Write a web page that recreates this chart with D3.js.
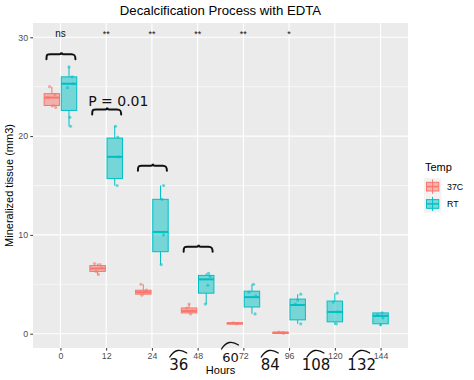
<!DOCTYPE html>
<html>
<head>
<meta charset="utf-8">
<script src="https://cdn.jsdelivr.net/npm/d3@7"></script>
<style>
  html, body { margin: 0; padding: 0; background: #fff; }
  svg { display: block; font-family: "Liberation Sans", Arial, sans-serif; }
</style>
</head>
<body>
<div id="chart"></div>
<script>
// ---------------- data ----------------
const categories = ["0", "12", "24", "48", "72", "96", "120", "144"];
const groups = ["37C", "RT"];
const yTicks = [0, 10, 20, 30];
const yMinorTicks = [5, 15, 25];

// box summaries
const boxCat   = ["0", "0", "12", "12", "24", "24", "48", "48", "72", "72", "96", "96", "120", "144"];
const boxGroup = ["37C", "RT", "37C", "RT", "37C", "RT", "37C", "RT", "37C", "RT", "37C", "RT", "RT", "RT"];
const boxLo    = [22.9, 21.0, 6.0, 15.0, 3.9, 7.0, 2.0, 3.0, 1.0, 2.0, 0.05, 1.0, 0.9, 0.8];
const boxQ1    = [23.1, 22.6, 6.3, 15.7, 4.0, 8.3, 2.1, 4.1, 1.0, 2.7, 0.05, 1.4, 1.2, 1.0];
const boxMed   = [23.9, 25.3, 6.6, 17.9, 4.2, 10.3, 2.3, 5.5, 1.05, 3.7, 0.1, 2.9, 2.2, 1.8];
const boxQ3    = [24.3, 26.0, 6.9, 19.8, 4.4, 13.6, 2.6, 5.9, 1.1, 4.3, 0.15, 3.5, 3.3, 2.1];
const boxHi    = [25.0, 27.0, 7.1, 21.0, 5.0, 15.0, 3.0, 6.1, 1.1, 5.0, 0.15, 4.0, 4.1, 2.1];

// individual (jittered) observations
const pointCat   = [
  "0","0","0","0","0", "0","0","0","0","0","0",
  "12","12","12","12","12", "12","12","12","12",
  "24","24","24","24", "24","24","24","24",
  "48","48","48","48", "48","48","48","48",
  "72","72","72", "72","72","72","72",
  "96","96","96", "96","96","96","96",
  "120","120","120","120",
  "144","144","144","144"];
const pointGroup = [
  "37C","37C","37C","37C","37C", "RT","RT","RT","RT","RT","RT",
  "37C","37C","37C","37C","37C", "RT","RT","RT","RT",
  "37C","37C","37C","37C", "RT","RT","RT","RT",
  "37C","37C","37C","37C", "RT","RT","RT","RT",
  "37C","37C","37C", "RT","RT","RT","RT",
  "37C","37C","37C", "RT","RT","RT","RT",
  "RT","RT","RT","RT",
  "RT","RT","RT","RT"];
const pointValue = [
  25.0, 24.2, 23.9, 23.1, 22.9,   27.0, 26.0, 25.3, 24.9, 21.9, 21.0,
  7.1, 7.0, 6.7, 6.3, 6.0,        21.0, 19.9, 17.9, 15.0,
  5.0, 4.4, 4.2, 3.9,             15.0, 13.6, 10.0, 7.0,
  3.0, 2.6, 2.3, 2.0,             6.1, 5.8, 4.9, 3.0,
  1.1, 1.05, 1.0,                 5.0, 4.2, 3.8, 2.0,
  0.15, 0.1, 0.05,                4.0, 3.4, 3.0, 1.0,
  4.1, 3.2, 2.2, 1.0,
  2.1, 1.9, 1.6, 0.9];
const pointJitter = [
  -0.15, 0.2, -0.25, 0.1, 0.25,   0.0, 0.2, 0.25, -0.1, 0.05, 0.1,
  -0.2, 0.15, 0.25, -0.1, 0.05,   0.05, 0.2, 0.25, 0.15,
  -0.15, 0.2, 0.1, -0.1,          0.2, 0.1, 0.2, 0.05,
  0.0, -0.15, 0.2, 0.1,           0.15, 0.25, 0.1, -0.05,
  -0.1, 0.2, 0.1,                 0.1, -0.2, 0.25, 0.2,
  -0.1, 0.15, 0.2,                0.2, 0.0, -0.15, 0.2,
  0.15, -0.1, 0.2, 0.1,
  0.1, -0.2, 0.15, 0.0];

// significance labels
const sigCat = ["0", "12", "24", "48", "72", "96"];
const sigLabel = ["ns", "**", "**", "**", "**", "*"];
const sigValue = 30.3;

// handwritten annotations
const braceCat = ["0", "12", "24", "48"];
const braceValue = [28.4, 22.8, 17.1, 8.9];
const handNote = "P = 0.01";
const handHours = ["36", "60", "84", "108", "132"];

// ---------------- layout ----------------
const W = 474, H = 380;
const panel = { left: 33, right: 408, top: 23, bottom: 348 };
const colors = { "37C": "#F8766D", "RT": "#00BFC4" };

const svg = d3.select("#chart").append("svg").attr("width", W).attr("height", H);
svg.append("rect").attr("width", W).attr("height", H).attr("fill", "#fff");

// ggplot-style discrete expansion (0.6 units each side)
const step = (panel.right - panel.left) / (categories.length - 1 + 1.2);
const xAxisScale = d3.scalePoint().domain(categories)
  .range([panel.left + step * 0.6, panel.right - step * 0.6]);
const xc = c => xAxisScale(c);
const y = d3.scaleLinear().domain([-1.45, 31.45]).range([panel.bottom, panel.top]);

// panel background
svg.append("rect")
  .attr("x", panel.left).attr("y", panel.top)
  .attr("width", panel.right - panel.left).attr("height", panel.bottom - panel.top)
  .attr("fill", "#EBEBEB");

const grid = svg.append("g");
yMinorTicks.forEach(v => grid.append("line")
  .attr("x1", panel.left).attr("x2", panel.right)
  .attr("y1", y(v)).attr("y2", y(v))
  .attr("stroke", "#fff").attr("stroke-width", 0.55));
yTicks.forEach(v => grid.append("line")
  .attr("x1", panel.left).attr("x2", panel.right)
  .attr("y1", y(v)).attr("y2", y(v))
  .attr("stroke", "#fff").attr("stroke-width", 1.1));
categories.forEach(c => grid.append("line")
  .attr("x1", xc(c)).attr("x2", xc(c))
  .attr("y1", panel.top).attr("y2", panel.bottom)
  .attr("stroke", "#fff").attr("stroke-width", 1.1));

// boxes
const dodge = step * 0.75;
const boxW = dodge / 2 * 0.9;
function centerOf(cat, grp) {
  const present = boxCat.filter(c => c === cat).length;
  if (present < 2) return xc(cat);
  return xc(cat) + (grp === "37C" ? -dodge / 4 : dodge / 4);
}

const gBox = svg.append("g");
boxCat.forEach((c, i) => {
  const g = boxGroup[i];
  const col = colors[g];
  const cx = centerOf(c, g);
  gBox.append("line").attr("x1", cx).attr("x2", cx)
    .attr("y1", y(boxQ3[i])).attr("y2", y(boxHi[i]))
    .attr("stroke", col).attr("stroke-width", 1);
  gBox.append("line").attr("x1", cx).attr("x2", cx)
    .attr("y1", y(boxQ1[i])).attr("y2", y(boxLo[i]))
    .attr("stroke", col).attr("stroke-width", 1);
  const top = y(boxQ3[i]), bot = y(boxQ1[i]);
  gBox.append("rect")
    .attr("x", cx - boxW / 2).attr("width", boxW)
    .attr("y", top).attr("height", Math.max(bot - top, 1.2))
    .attr("fill", col).attr("fill-opacity", 0.5)
    .attr("stroke", col).attr("stroke-width", 1);
  gBox.append("line")
    .attr("x1", cx - boxW / 2).attr("x2", cx + boxW / 2)
    .attr("y1", y(boxMed[i])).attr("y2", y(boxMed[i]))
    .attr("stroke", col).attr("stroke-width", 2);
});

// points
const gPts = svg.append("g");
pointValue.forEach((v, i) => {
  const g = pointGroup[i];
  const cx = centerOf(pointCat[i], g) + pointJitter[i] * boxW;
  gPts.append("circle")
    .attr("cx", cx).attr("cy", y(v)).attr("r", 1.6)
    .attr("fill", colors[g]).attr("fill-opacity", 0.6);
});

// significance labels
sigCat.forEach((c, i) => {
  svg.append("text")
    .attr("x", xc(c)).attr("y", y(sigValue) + 3)
    .attr("text-anchor", "middle")
    .attr("font-size", sigLabel[i] === "ns" ? 10 : 9)
    .attr("fill", "#111")
    .text(sigLabel[i]);
});

// axes
const gy = svg.append("g")
  .attr("transform", `translate(${panel.left},0)`)
  .call(d3.axisLeft(y).tickValues(yTicks).tickSize(2.7).tickPadding(2.2));
gy.select(".domain").remove();
gy.selectAll(".tick line").attr("stroke", "#333");
gy.selectAll(".tick text").attr("fill", "#4D4D4D").attr("font-size", 8.8)
  .attr("font-family", "Liberation Sans, Arial, sans-serif");

const gx = svg.append("g")
  .attr("transform", `translate(0,${panel.bottom})`)
  .call(d3.axisBottom(xAxisScale).tickSize(2.7).tickPadding(2.2));
gx.select(".domain").remove();
gx.selectAll(".tick line").attr("stroke", "#333");
gx.selectAll(".tick text").attr("fill", "#4D4D4D").attr("font-size", 8.8)
  .attr("font-family", "Liberation Sans, Arial, sans-serif");

// titles
svg.append("text")
  .attr("x", (panel.left + panel.right) / 2).attr("y", 15)
  .attr("text-anchor", "middle").attr("font-size", 13.2).attr("fill", "#000")
  .text("Decalcification Process with EDTA");

svg.append("text")
  .attr("transform", `translate(13,${(panel.top + panel.bottom) / 2}) rotate(-90)`)
  .attr("text-anchor", "middle").attr("font-size", 11).attr("fill", "#000")
  .text("Mineralized tissue (mm3)");

svg.append("text")
  .attr("x", (panel.left + panel.right) / 2).attr("y", 374)
  .attr("text-anchor", "middle").attr("font-size", 11).attr("fill", "#000")
  .text("Hours");

// legend
const lg = svg.append("g").attr("transform", "translate(424,0)");
lg.append("text").attr("x", 1).attr("y", 171).attr("font-size", 11).attr("fill", "#000").text("Temp");
groups.forEach((g, i) => {
  const ky = 178 + i * 17.3;
  lg.append("rect").attr("x", 0).attr("y", ky).attr("width", 17.3).attr("height", 17.3)
    .attr("fill", "#F2F2F2");
  const col = colors[g];
  lg.append("line").attr("x1", 8.6).attr("x2", 8.6).attr("y1", ky + 1.5).attr("y2", ky + 15.8)
    .attr("stroke", col);
  lg.append("rect").attr("x", 2.5).attr("y", ky + 4.3).attr("width", 12.3).attr("height", 8.7)
    .attr("fill", col).attr("fill-opacity", 0.5).attr("stroke", col);
  lg.append("line").attr("x1", 2.5).attr("x2", 14.8).attr("y1", ky + 8.6).attr("y2", ky + 8.6)
    .attr("stroke", col).attr("stroke-width", 1.5);
  lg.append("text").attr("x", 23).attr("y", ky + 12).attr("font-size", 8.8)
    .attr("fill", "#000").text(g);
});

// handwritten annotations
const hand = svg.append("g").attr("fill", "none").attr("stroke", "#111")
  .attr("stroke-width", 2).attr("stroke-linecap", "round");
braceCat.forEach((c, i) => {
  const x0 = xc(c) - 14, x1 = xc(c) + 15, yy = y(braceValue[i]), m = xc(c) + 1;
  hand.append("path").attr("d",
    `M${x0},${yy + 6} C${x0},${yy + 1} ${x0 + 1},${yy + 1} ${x0 + 4},${yy + 1}
     L${m - 2},${yy + 1} Q${m},${yy + 1} ${m},${yy - 1} Q${m},${yy + 1} ${m + 2},${yy + 1}
     L${x1 - 4},${yy + 1} C${x1 - 1},${yy + 1} ${x1},${yy + 2} ${x1},${yy + 6}`);
});
svg.append("text")
  .attr("x", xc("12") - 18).attr("y", y(23.0))
  .attr("font-size", 14).attr("font-family", "DejaVu Sans, sans-serif")
  .attr("fill", "#111")
  .text(handNote);

handHours.forEach((h, i) => {
  const cx = (xc(categories[i + 2]) + xc(categories[i + 3])) / 2 + 4;
  const isSixty = h === "60";
  const by = isSixty ? 362 : 370;
  const tx = isSixty ? cx + 6 : cx;
  svg.append("text")
    .attr("x", tx).attr("y", by)
    .attr("text-anchor", "middle")
    .attr("font-size", isSixty ? 13 : 15).attr("font-family", "DejaVu Sans, sans-serif")
    .attr("fill", "#111")
    .text(h);
  hand.append("path").attr("stroke-width", 1.3)
    .attr("d", `M${tx - 9},${by - 13} Q${tx - 2},${by - 24} ${tx + 8},${by - 17}`);
});
</script>
</body>
</html>
